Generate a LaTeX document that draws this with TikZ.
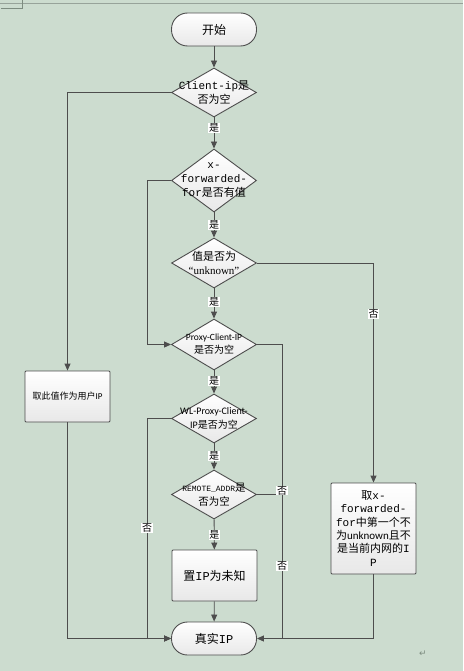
\documentclass[tikz,border=0pt]{standalone}
\usepackage{fontspec}
\setmainfont{Noto Sans CJK SC}
\setmonofont{Liberation Mono}
\newfontfamily\calib{Carlito}
\newfontfamily\tms{Liberation Serif}
\newfontfamily\dejavu{DejaVu Sans}
\usetikzlibrary{arrows.meta, shapes.geometric}

\definecolor{bgcol}{RGB}{204,220,207}
\definecolor{linecol}{RGB}{77,77,77}
\definecolor{markcol}{RGB}{125,140,128}

\tikzset{
  box/.style={draw=linecol, line width=0.9pt, top color=white, bottom color=gray!18,
    minimum width=85pt, inner sep=0pt, align=center},
  term/.style={box, rounded corners=16pt, minimum height=33pt, font=\fontsize{12}{14}\selectfont},
  proc/.style={box, rounded corners=1pt, minimum height=51pt},
  decision/.style={box, diamond, minimum width=85pt},
  txt/.style={align=center, inner sep=0pt, font=\fontsize{11}{14}\selectfont},
  yesno/.style={fill=white, inner sep=0.6pt, font=\fontsize{10}{11}\selectfont},
  flow/.style={draw=linecol, line width=0.9pt},
  arr/.style={flow, -{Triangle[length=7pt,width=6pt]}},
}

\begin{document}
\begin{tikzpicture}[x=1pt, y=-1pt]
      % 0. 背景與頁面標記
      \fill[bgcol] (0,0) rectangle (463,671);
      \useasboundingbox (0,0) rectangle (463,671);
      \draw[markcol!80!white, line width=1.2pt] (0,3.5) -- (463,3.5);
      \draw[markcol, line width=0.8pt] (1,8) -- (22,8) -- (22,0);
      \node[text=markcol, font=\dejavu\fontsize{9}{9}\selectfont] (para) at (423,654) {↵};

      % 1. 起止框
      \node[term] (start) at (214,29.5) {开始};
      \node[term] (end) at (214,638.5) {真实{\ttfamily IP}};

      % 2. 判斷框
      \node[decision, minimum height=49pt] (d1) at (214,92.5) {};
      \node[decision, minimum height=63pt] (d2) at (214,180.5) {};
      \node[decision, minimum height=50pt] (d3) at (214,263) {};
      \node[decision, minimum height=51pt] (d4) at (214,344.5) {};
      \node[decision, minimum height=49pt] (d5) at (214,418.5) {};
      \node[decision, minimum height=49pt] (d6) at (214,494.5) {};
      \node[txt] (t1) at (d1) {{\ttfamily Client-ip}是\\否为空};
      \node[txt] (t2) at (d2) {{\ttfamily x-}\\{\ttfamily forwarded-}\\{\ttfamily for}是否有值};
      \node[txt] (t3) at (d3) {值是否为\\{\tms “unknown”}};
      \node[txt, font=\fontsize{10}{13}\selectfont] (t4) at (d4) {{\calib\fontsize{9.5}{13}\selectfont Proxy-Client-IP}\\是否为空};
      \node[txt, font=\fontsize{10}{14}\selectfont] (t5) at (d5) {{\calib WL-Proxy-Client-}\\{\calib IP}是否为空};
      \node[txt, font=\fontsize{10.5}{14}\selectfont] (t6) at (d6) {{\ttfamily\fontsize{8}{14}\selectfont REMOTE\_ADDR}是\\否为空};

      % 3. 處理框
      \node[proc, font=\fontsize{9}{11}\selectfont] (lbox) at (67.5,396.5) {取此值作为用户{\calib IP}};
      \node[proc, font=\fontsize{12}{14}\selectfont] (setip) at (214.5,575.5) {置{\ttfamily IP}为未知};
      \node[proc, minimum height=91pt, font=\fontsize{11}{13.4}\selectfont] (rbox) at (373.5,528.5)
        {取{\ttfamily x-}\\{\ttfamily forwarded-}\\{\ttfamily for}中第一个不\\为{\calib unknown}且不\\是当前内网的{\ttfamily I}\\{\ttfamily P}};

      % 4. 轉折點
      \coordinate (lx) at (147,180.5);
      \coordinate (jl) at (147,638.5);
      \coordinate (jr) at (282,638.5);
      \coordinate (r6) at (282,494.5);

      % 5. 主線（是）
      \draw[arr] (start) -- (d1);
      \draw[arr] (d1) -- (d2) node[yesno, pos=0.35] {是};
      \draw[arr] (d2) -- (d3) node[yesno, pos=0.5] {是};
      \draw[arr] (d3) -- (d4) node[yesno, pos=0.45] {是};
      \draw[arr] (d4) -- (d5) node[yesno, pos=0.46] {是};
      \draw[arr] (d5) -- (d6) node[yesno, pos=0.48] {是};
      \draw[arr] (d6) -- (setip) node[yesno, pos=0.52] {是};
      \draw[arr] (setip) -- (end);

      % 6. 分支線
      \draw[arr] (d1.west) -| (lbox.north);
      \draw[arr] (lbox.south) |- (end.west);
      \draw[arr] (d2.west) -- (lx) |- (d4.west);
      \draw[arr] (d3.east) -| (rbox.north) node[yesno, pos=0.616] {否};
      \draw[flow] (rbox.south) |- (jr);
      \draw[flow] (d4.east) -| (jr) node[yesno, pos=0.876] {否};
      \draw[arr] (jr) -- (end.east);
      \draw[flow] (d5.west) -| (jl) node[yesno, pos=0.748] {否};
      \draw[arr] (jl) -- (end.west);
      \draw[flow] (d6.east) -- (r6) node[yesno, pos=1, yshift=4pt] {否};
    \end{tikzpicture}
\end{document}
